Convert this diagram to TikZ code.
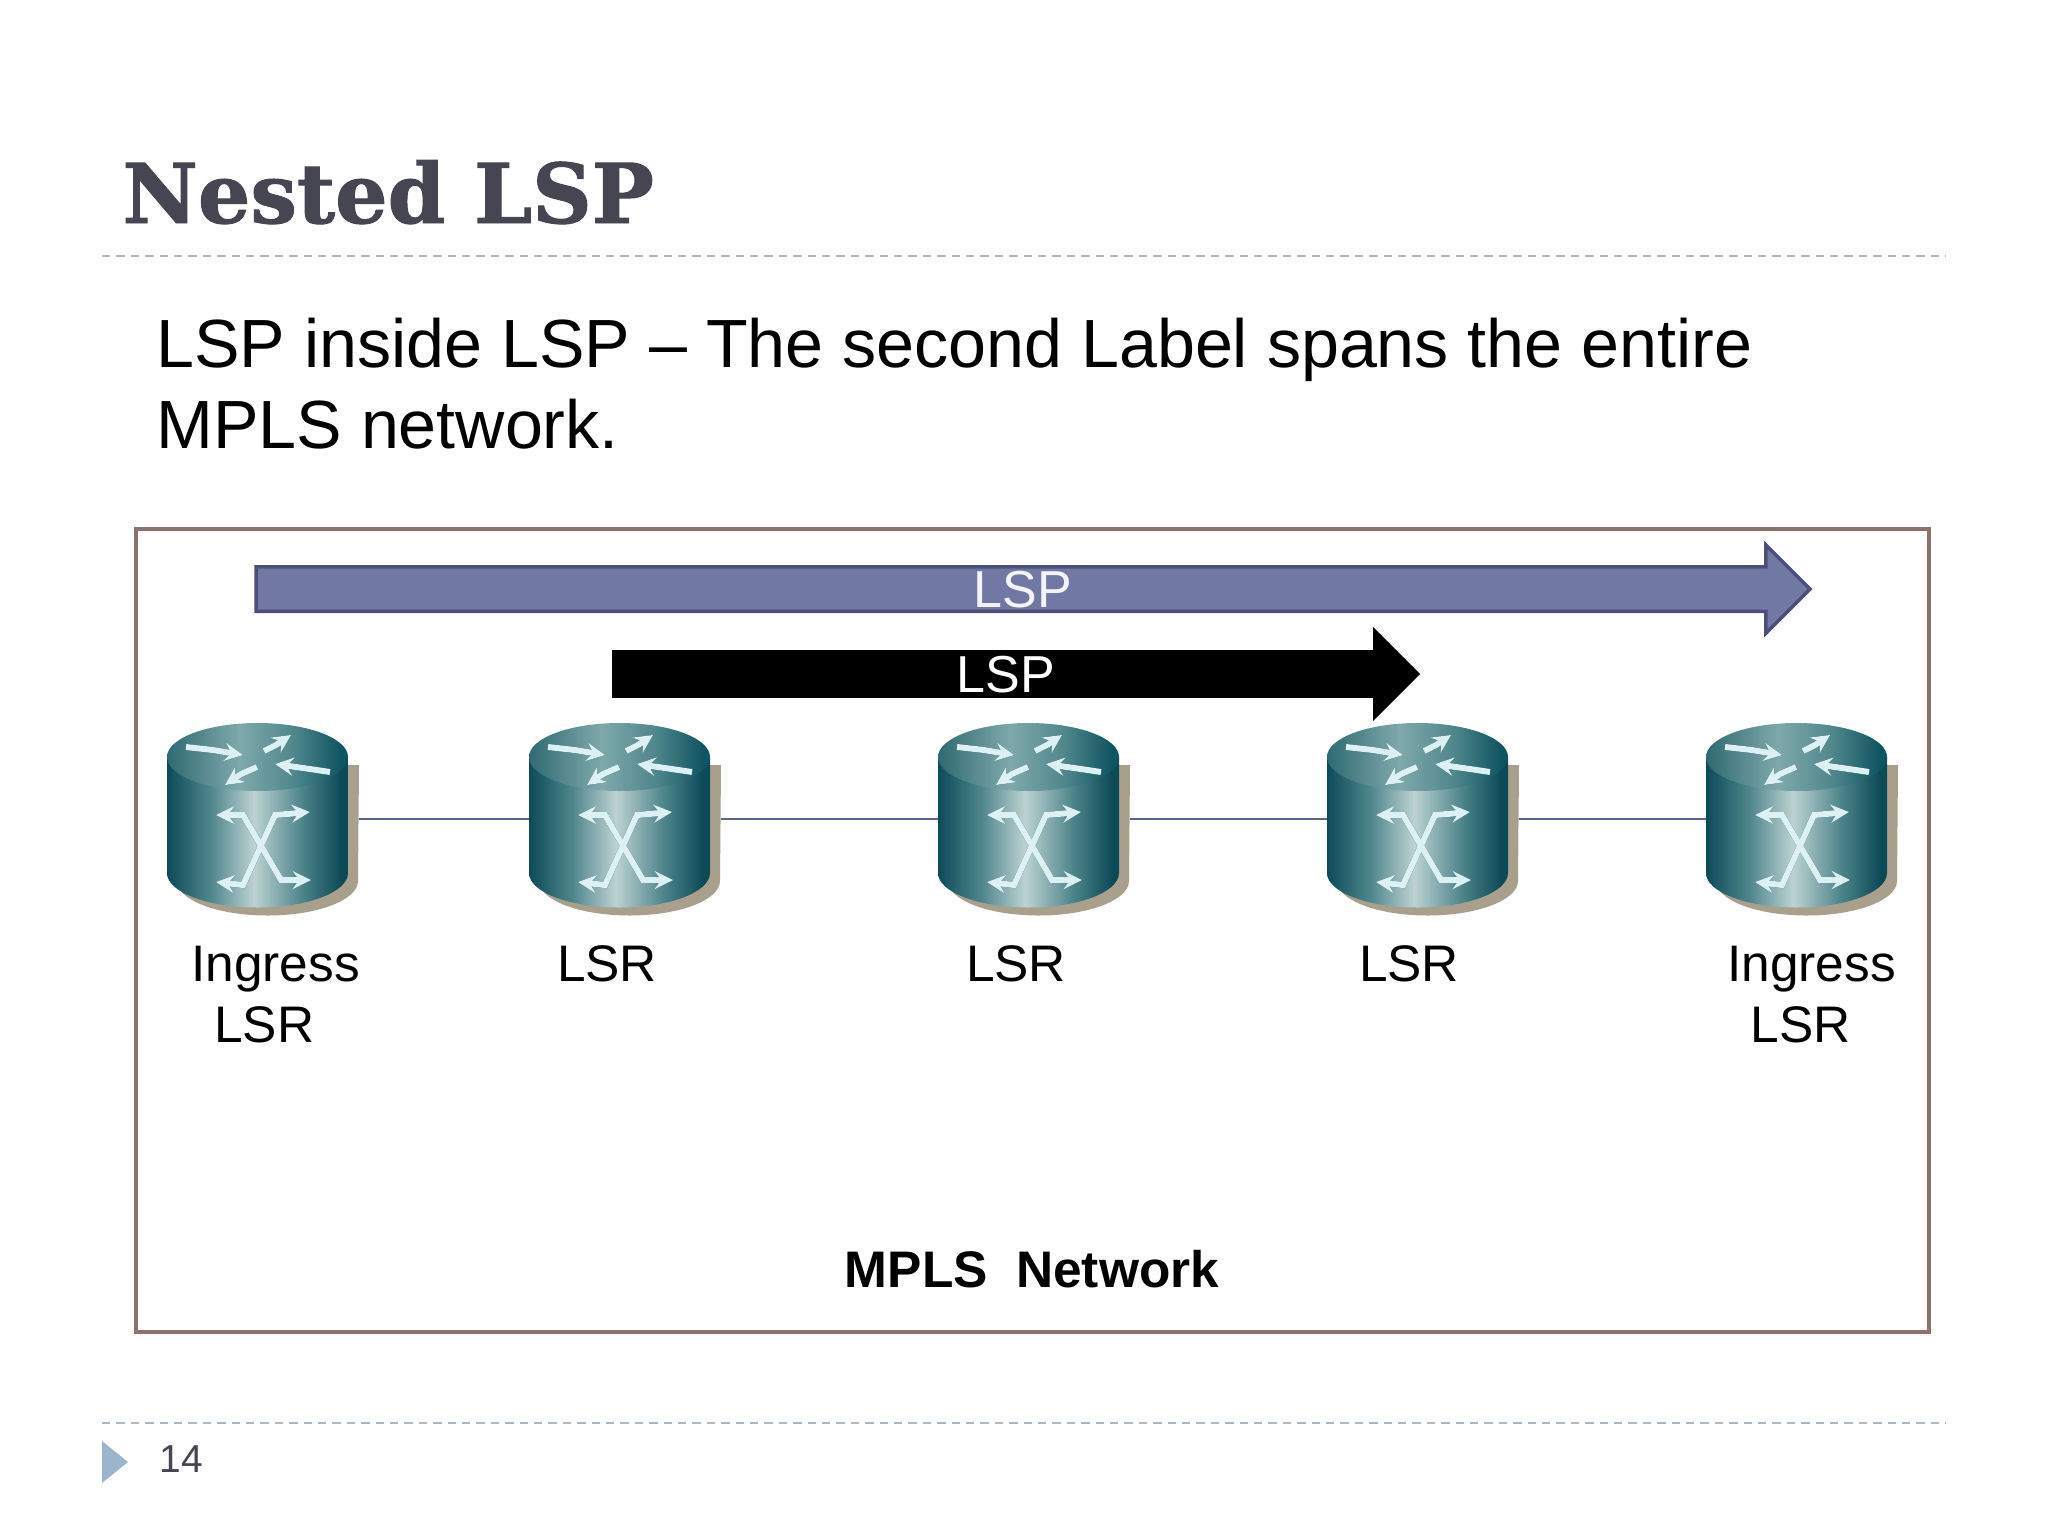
\documentclass[tikz,border=0pt]{standalone}
\usepackage{fontspec}
\usepackage{xcolor}
\setmainfont{Liberation Sans}
\newfontfamily\titlefont[BoldFeatures={FakeBold=1.2}]{DejaVu Serif}
\usetikzlibrary{shapes.arrows, positioning}

\definecolor{tealdark}{HTML}{0D4A58}
\definecolor{tealmid}{HTML}{4F868C}
\definecolor{teallight}{HTML}{BDD2D2}
\definecolor{lidleft}{HTML}{2F6A72}
\definecolor{lidlight}{HTML}{7FA9AB}
\definecolor{lidright}{HTML}{0F5561}
\definecolor{routertan}{HTML}{A89F8C}
\definecolor{glyphwhite}{HTML}{DDF0F3}
\definecolor{framebrown}{HTML}{8C726C}
\definecolor{rulegray}{HTML}{A9B8C6}
\definecolor{markblue}{HTML}{9BB5CD}
\definecolor{lspblue}{HTML}{7178A4}
\definecolor{lspedge}{HTML}{4C4F7C}
\definecolor{linkblue}{HTML}{5E6292}
\definecolor{titleink}{HTML}{464653}

\pgfdeclarehorizontalshading{routerside}{100bp}{color(0bp)=(tealdark); color(25bp)=(tealdark); color(37bp)=(tealmid); color(49bp)=(teallight); color(62bp)=(tealmid); color(73bp)=(tealdark); color(100bp)=(tealdark)}
\pgfdeclarehorizontalshading{routertop}{100bp}{color(0bp)=(lidleft); color(25bp)=(lidleft); color(45bp)=(lidlight); color(60bp)=(tealmid); color(73bp)=(lidright); color(100bp)=(lidright)}

% one router, drawn inside its own node box
\newcommand{\drawrouter}{%
  \begin{scope}[shift={(path picture bounding box.center)}]
    \fill[routertan] (-86,-54) -- (-86,62) arc[start angle=180, end angle=360, x radius=45.25pt, y radius=17.25pt] -- (96,-54) -- cycle;
    \shade[shading=routerside] (-96,-62) -- (-96,54) arc[start angle=180, end angle=360, x radius=45.25pt, y radius=17.25pt] -- (85,-62) -- cycle;
    \shade[shading=routertop] (-5.5,-62) ellipse [x radius=45.25pt, y radius=17pt];
    \foreach \gcol/\gdrop in {tealdark/2, glyphwhite/0} {
      \begin{scope}[yshift=-\gdrop*0.5pt]
        % arrows on the lid
        \draw[glyph, color=\gcol] (-77,-72) -- (-50,-69) -- (-20,-64);
        \draw[glyph, color=\gcol] (1,-68) -- (13,-74) -- (28,-84);
        \draw[glyph, color=\gcol] (67,-47) -- (40,-51) -- (12,-55);
        \draw[glyph, color=\gcol] (-6,-52) -- (-22,-45) -- (-38,-34);
        % crossed arrows on the side
        \draw[glyph, <->, color=\gcol] (-47,-4) -- (-20,-4) -- (18,61) -- (48,61);
        \draw[glyph, <->, color=\gcol] (47,-7) -- (12,-4) -- (-20,66) -- (-47,63);
      \end{scope}
    }
  \end{scope}}

\begin{document}
\begin{tikzpicture}[
    x=0.5pt, y=-0.5pt,
    router/.style={rectangle, inner sep=0pt, outer sep=0pt, minimum width=96pt, minimum height=96pt, path picture={\drawrouter}},
    glyph/.style={->, >=stealth, line width=3pt},
    netbox/.style={rectangle, draw=framebrown, line width=2pt, outer sep=0pt, inner sep=0pt},
    lsp/.style={single arrow, single arrow head extend=11.5pt, inner xsep=0pt, inner ysep=11pt, outer sep=0pt, anchor=tip},
    lsptext/.style={font=\fontsize{26}{30}\selectfont, anchor=base},
    lbl/.style={font=\fontsize{25.7}{30.5}\selectfont, text=black, inner sep=0pt},
    rulerline/.style={rulegray, line width=1pt, dash pattern=on 4.2pt off 3pt},
    link/.style={linkblue, line width=0.8pt}
]
\useasboundingbox (0,0) rectangle (2048,1536);

% Slide head
\node[anchor=base west, inner sep=0pt, text=titleink, font=\titlefont\bfseries\fontsize{41.3}{48}\selectfont] (title) at (122,223) {Nested LSP};
\coordinate (ruletopl) at (102,256);
\coordinate (ruletopr) at (1946,256);
\draw[rulerline] (ruletopl) -- (ruletopr);
\node[anchor=north west, inner sep=0pt, align=left, font=\fontsize{34.1}{40.5}\selectfont] (body) at (156,318) {LSP inside LSP -- The second Label spans the entire\\MPLS network.};

% Frame of the network
\node[netbox, minimum width=896.5pt, minimum height=401.5pt] (net) at (1032.5,930.5) {};

% Both LSP arrows
\node[lsp, draw=lspedge, line width=1.75pt, fill=lspblue, inner ysep=10.25pt, single arrow head extend=11pt, minimum height=777pt] (outerlsp) at (1810,589) {};
\node[lsptext, text=white!92!lspblue] (outerlbl) at (1023,607) {LSP};
\node[lsp, fill=black, inner ysep=11.75pt, minimum height=404pt] (innerlsp) at (1420,674) {};
\node[lsptext, text=white] (innerlbl) at (1006,692) {LSP};

% Row of routers
\node[router] (ingress) at (263,819) {};
\node[router, right=85pt of ingress] (lsra) {};
\node[router, right=108.5pt of lsra] (lsrb) {};
\node[router, right=98.5pt of lsrb] (lsrc) {};
\node[router, right=93.5pt of lsrc] (egress) {};

\draw[link] (ingress.east) -- (lsra.west);
\draw[link] (lsra.east) -- (lsrb.west);
\draw[link] (lsrb.east) -- (lsrc.west);
\draw[link] (lsrc.east) -- (egress.west);

% Router names
\node[lbl, anchor=north west, align=left] (ingresslbl) at (191,946) {Ingress\\\hspace*{11.5pt}LSR};
\node[lbl, anchor=base] (lsralbl) at (607,981) {LSR};
\node[lbl, anchor=base] (lsrblbl) at (1016,981) {LSR};
\node[lbl, anchor=base] (lsrclbl) at (1409,981) {LSR};
\node[lbl, anchor=north west, align=left] (egresslbl) at (1727,946) {Ingress\\\hspace*{11.5pt}LSR};
\node[lbl, anchor=base, font=\bfseries\fontsize{25.7}{30}\selectfont] (netlbl) at (1032,1287) {MPLS\ \ Network};

% Slide foot
\coordinate (rulebotl) at (102,1423);
\coordinate (rulebotr) at (1946,1423);
\draw[rulerline] (rulebotl) -- (rulebotr);
\fill[markblue] (102,1441) -- (128,1462) -- (102,1483) -- cycle;
\node[anchor=base west, inner sep=0pt, text=titleink, font=\fontsize{19.5}{24}\selectfont] (pageno) at (159,1472) {14};
\end{tikzpicture}
\end{document}
